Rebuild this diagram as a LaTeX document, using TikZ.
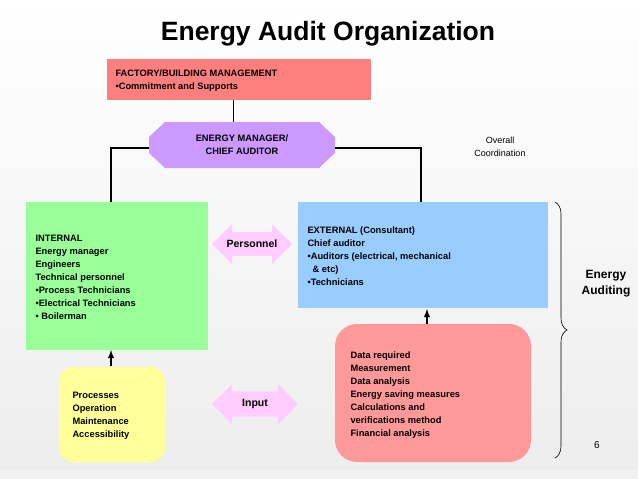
\documentclass[tikz,border=0pt]{standalone}
\usepackage{fontspec}
\setmainfont{Liberation Sans}
\usetikzlibrary{shapes.geometric,shapes.arrows,shapes.misc,decorations.pathreplacing}
\definecolor{bgc}{HTML}{EDEDED}
\definecolor{fac}{HTML}{FF7F7F}
\definecolor{pur}{HTML}{CC99FF}
\definecolor{grn}{HTML}{99FF99}
\definecolor{blu}{HTML}{99CCFF}
\definecolor{yel}{HTML}{FFFF99}
\definecolor{red2}{HTML}{FF9999}
\definecolor{pnk}{HTML}{FFCCFF}
\begin{document}
\begin{tikzpicture}[x=1pt,y=-1pt,
  txt/.style={font=\bfseries\fontsize{9.3}{13}\selectfont,align=left},
  dbl/.style={double arrow,fill=pnk,draw=none,double arrow head extend=4pt,minimum height=80pt,minimum width=40pt,inner sep=2pt,font=\bfseries\fontsize{10.5}{12}\selectfont},
  conn/.style={line width=1.8pt},
  up/.style={-latex,line width=1.8pt}]
\shade[top color=white,bottom color=bgc] (0,0) rectangle (638,479);
\fill[bgc!80!white] (0,470) rectangle (638,479);
\node[font=\bfseries\fontsize{26.5}{30}\selectfont] (title) at (328,34) {Energy Audit Organization};
\fill[fac] (107,59) rectangle (371,100);
\node[txt,anchor=north west] (fac) at (112,66) {FACTORY/BUILDING MANAGEMENT\\•Commitment and Supports};
\coordinate (facb) at (233,100);
\fill[pur] (165,122) -- (319,122) -- (335,137) -- (335,153) -- (319,168) -- (165,168) -- (149,153) -- (149,137) -- cycle;
\node[txt,align=center,minimum width=186pt,minimum height=46pt,inner sep=0pt] (em) at (242,145) {ENERGY MANAGER/\\CHIEF AUDITOR};
\draw[line width=0.6pt] (facb) -- (233,122);
\fill[grn] (26,202) rectangle (208,350);
\node[txt,anchor=north west] (int) at (32,232) {INTERNAL\\Energy manager\\Engineers\\Technical personnel\\•Process Technicians\\•Electrical Technicians\\• Boilerman};
\fill[blu] (298,202) rectangle (548,308);
\node[txt,anchor=north west] (ext) at (304,223) {EXTERNAL (Consultant)\\Chief auditor\\•Auditors (electrical, mechanical\\\ \ \& etc)\\•Technicians};
\coordinate (il) at (111,202);
\coordinate (er) at (421,202);
\draw[conn] (em.west |- 0,148) -- (111,148) -- (il);
\draw[conn] (em.east |- 0,148) -- (421,148) -- (er);
\node[dbl] (pers) at (252,244) {Personnel};
\node[dbl,minimum height=86pt] (inp) at (255,404) {Input};
\fill[yel,rounded corners=14pt] (59,367) rectangle (165,462);
\node[txt,anchor=north west] (yl) at (69,389) {Processes\\Operation\\Maintenance\\Accessibility};
\fill[red2,rounded corners=22pt] (335,324) rectangle (531,462);
\node[txt,anchor=north west] (rd) at (347,348) {Data required\\Measurement\\Data analysis\\Energy saving measures\\Calculations and\\verifications method\\Financial analysis};
\draw[up] (111,366) -- (111,350);
\draw[up] (427,324) -- (427,309);
\draw[line width=0.6pt,decorate,decoration={brace,amplitude=12pt}] (555,202) -- (555,458);
\node[font=\bfseries\fontsize{12}{16}\selectfont,align=center] (ea) at (606,284) {Energy\\Auditing};
\node[font=\fontsize{9}{13}\selectfont,align=center] (oc) at (500,147) {Overall\\Coordination};
\node[font=\fontsize{10}{12}\selectfont] (num) at (597,445) {6};
\end{tikzpicture}
\end{document}
